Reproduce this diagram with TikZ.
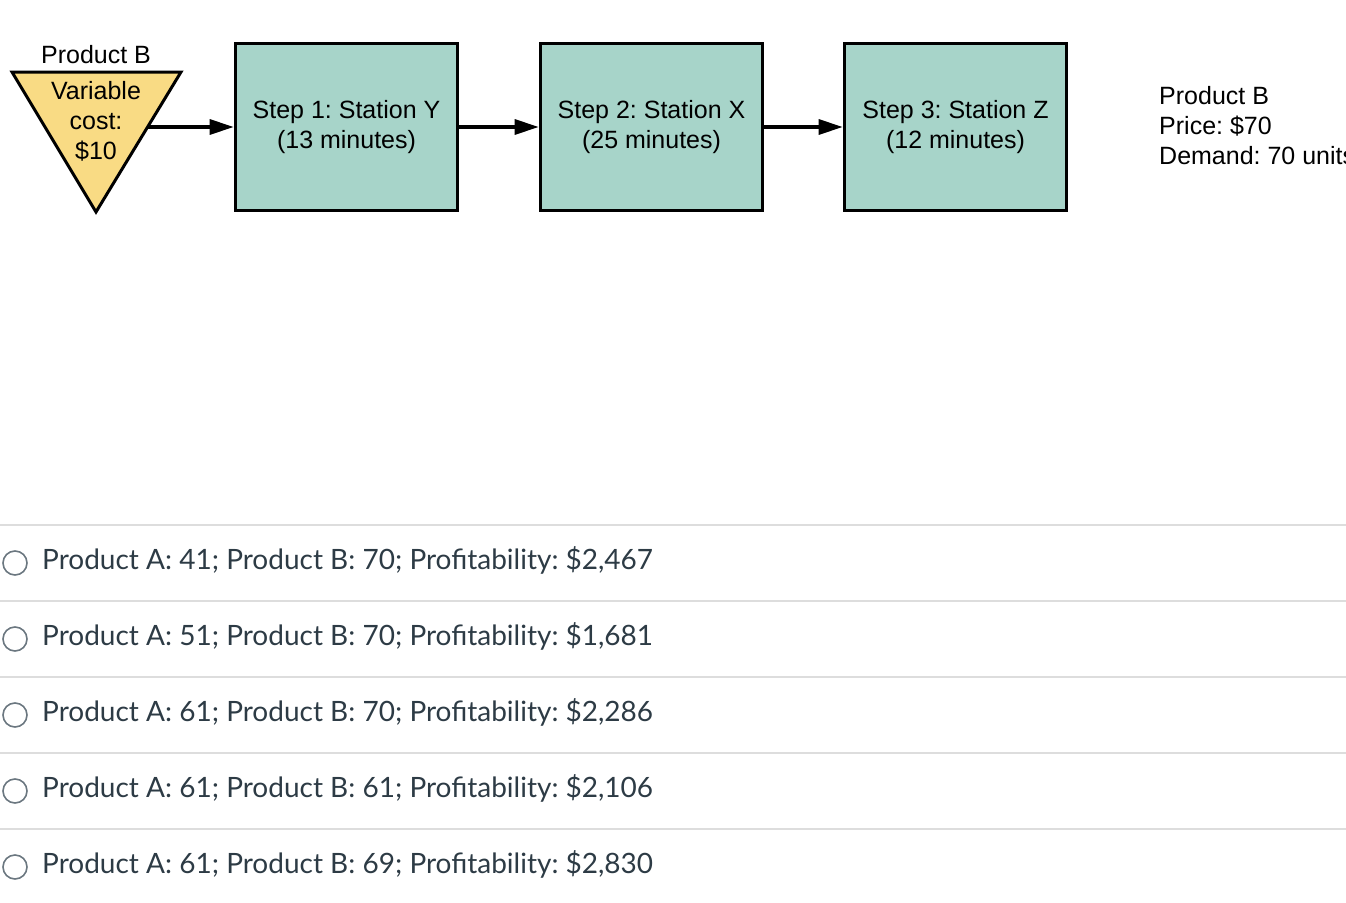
\documentclass[tikz,border=0pt]{standalone}
\usepackage{fontspec}
\setmainfont{Liberation Sans}
\newfontfamily\latofont{Lato}
\usetikzlibrary{arrows.meta,shapes.geometric}
\frenchspacing
\definecolor{boxfill}{HTML}{A7D4C9}
\definecolor{trifill}{HTML}{F9DB84}
\definecolor{optext}{HTML}{2D3B45}
\definecolor{sepline}{HTML}{DDDDDD}
\definecolor{radio}{HTML}{6B7780}
\begin{document}
\begin{tikzpicture}[x=1pt,y=-1pt,
  stationbox/.style={draw=black,line width=3.6pt,fill=boxfill,minimum width=222pt,minimum height=167pt,inner sep=0pt,align=center,font=\fontsize{25}{30}\selectfont},
  flow/.style={line width=3.2pt,-{Triangle[length=24pt,width=15pt]}},
  difftext/.style={font=\fontsize{25}{30}\selectfont,inner sep=0pt,align=center},
  optline/.style={draw=sepline,line width=2pt},
  optlabel/.style={font=\latofont\fontsize{28}{34}\selectfont,text=optext,anchor=west,inner sep=0pt},
  radiobtn/.style={draw=radio,line width=1.6pt,circle,minimum size=24pt,inner sep=0pt}]
\useasboundingbox (0,0) rectangle (1346,902);
\clip (0,0) rectangle (1346,902);
% triangle
\coordinate (t1) at (12,72);
\coordinate (t2) at (181,72);
\coordinate (t3) at (96,212);
\draw[line width=3pt,fill=trifill,line join=miter] (t1) -- (t2) -- (t3) -- cycle;
\node[difftext] (pb) at (96,55) {Product B};
\node[difftext] (vc) at (96,121) {Variable\\cost:\\\$10};
\coordinate (tout) at (147,127);
% boxes
\node[stationbox] (s1) at (346.5,127) {Step 1: Station Y\\(13 minutes)};
\node[stationbox] (s2) at (651.5,127) {Step 2: Station X\\(25 minutes)};
\node[stationbox] (s3) at (955.5,127) {Step 3: Station Z\\(12 minutes)};
\draw[flow] (tout) -- (s1.west);
\draw[flow] (s1.east) -- (s2.west);
\draw[flow] (s2.east) -- (s3.west);
% right text
\node[difftext,anchor=west,align=left] (info) at (1159,126) {Product B\\Price: \$70\\Demand: 70 units};
% options
\foreach \yy in {525,601,677,753,829} {\draw[optline] (0,\yy) -- (1346,\yy);}
\node[radiobtn] (r1) at (15,563) {};
\node[radiobtn] (r2) at (15,639) {};
\node[radiobtn] (r3) at (15,715) {};
\node[radiobtn] (r4) at (15,791) {};
\node[radiobtn] (r5) at (15,867) {};
\node[optlabel] (o1) at (42,560) {Product A: 41; Product B: 70; Profitability: \$2,467};
\node[optlabel] (o2) at (42,636) {Product A: 51; Product B: 70; Profitability: \$1,681};
\node[optlabel] (o3) at (42,712) {Product A: 61; Product B: 70; Profitability: \$2,286};
\node[optlabel] (o4) at (42,788) {Product A: 61; Product B: 61; Profitability: \$2,106};
\node[optlabel] (o5) at (42,864) {Product A: 61; Product B: 69; Profitability: \$2,830};
\end{tikzpicture}
\end{document}
